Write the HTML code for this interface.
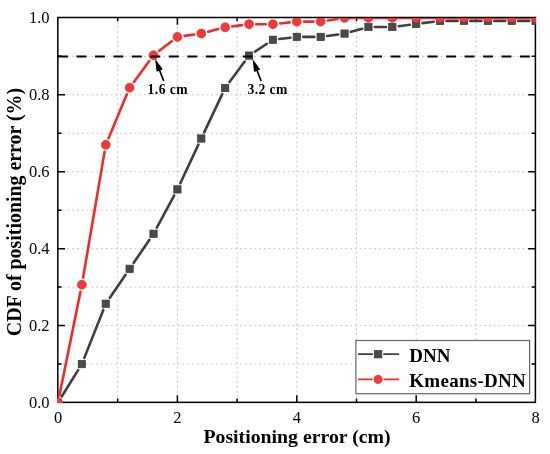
<!DOCTYPE html>
<html><head><meta charset="utf-8"><title>CDF of positioning error</title>
<style>html,body{margin:0;padding:0;background:#fff;overflow:hidden}svg{display:block}</style>
</head><body>
<svg width="550" height="454" viewBox="0 0 550 454">
<defs><clipPath id="pc"><rect x="57.1" y="17.95" width="479.0" height="385.15"/></clipPath></defs>
<rect width="550" height="454" fill="#fff"/>
<path d="M117.70 402.1V18.20M177.40 402.1V18.20M237.10 402.1V18.20M296.80 402.1V18.20M356.50 402.1V18.20M416.20 402.1V18.20M475.90 402.1V18.20M57.86 364.04H535.40M57.86 325.58H535.40M57.86 287.12H535.40M57.86 248.66H535.40M57.86 210.20H535.40M57.86 171.74H535.40M57.86 133.28H535.40M57.86 94.82H535.40M57.86 56.36H535.40" stroke="#c8c8c8" stroke-width="1" stroke-dasharray="2 2.79" fill="none"/>
<path d="M117.70 402.35v-3.8M117.70 17.50v3.8M177.40 402.35v-7.2M177.40 17.50v7.2M237.10 402.35v-3.8M237.10 17.50v3.8M296.80 402.35v-7.2M296.80 17.50v7.2M356.50 402.35v-3.8M356.50 17.50v3.8M416.20 402.35v-7.2M416.20 17.50v7.2M475.90 402.35v-3.8M475.90 17.50v3.8M57.80 364.04h3.8M535.40 364.04h-3.8M57.80 325.58h7.2M535.40 325.58h-7.2M57.80 287.12h3.8M535.40 287.12h-3.8M57.80 248.66h7.2M535.40 248.66h-7.2M57.80 210.20h3.8M535.40 210.20h-3.8M57.80 171.74h7.2M535.40 171.74h-7.2M57.80 133.28h3.8M535.40 133.28h-3.8M57.80 94.82h7.2M535.40 94.82h-7.2M57.80 56.36h3.8M535.40 56.36h-3.8" stroke="#000" stroke-width="1.5" fill="none"/>
<rect x="57.8" y="17.5" width="477.60" height="384.85" fill="none" stroke="#000" stroke-width="1.5"/>
<g clip-path="url(#pc)">
<path d="M61.75 396.46L78.13 370.14M84.34 357.87L103.30 309.93M109.85 297.72L125.55 274.78M133.72 262.82L149.44 239.78M156.81 227.69L174.11 195.51M180.30 183.23L198.38 144.67M204.20 132.33L222.24 94.17M229.53 82.07L244.67 61.53M255.04 51.63L266.92 43.77M279.30 39.02L290.42 37.68M303.20 36.90L314.28 36.90M327.06 36.02L338.18 34.48M350.87 31.86L362.13 28.74M374.84 27.00L385.92 27.00M398.70 26.17L409.82 24.73M422.58 23.10L433.70 21.70M446.48 20.90L457.56 20.90M470.36 20.90L481.44 20.90M494.24 20.90L505.32 20.90M518.12 20.90L529.20 20.90" stroke="#3f3f3f" stroke-width="2.6" stroke-linecap="round" fill="none"/>
<rect x="54.35" y="398.85" width="7.30" height="7.30" fill="#4a4a4a" stroke="#353535" stroke-width="0.7"/>
<rect x="78.23" y="360.45" width="7.30" height="7.30" fill="#4a4a4a" stroke="#353535" stroke-width="0.7"/>
<rect x="102.11" y="300.05" width="7.30" height="7.30" fill="#4a4a4a" stroke="#353535" stroke-width="0.7"/>
<rect x="125.99" y="265.15" width="7.30" height="7.30" fill="#4a4a4a" stroke="#353535" stroke-width="0.7"/>
<rect x="149.87" y="230.15" width="7.30" height="7.30" fill="#4a4a4a" stroke="#353535" stroke-width="0.7"/>
<rect x="173.75" y="185.75" width="7.30" height="7.30" fill="#4a4a4a" stroke="#353535" stroke-width="0.7"/>
<rect x="197.63" y="134.85" width="7.30" height="7.30" fill="#4a4a4a" stroke="#353535" stroke-width="0.7"/>
<rect x="221.51" y="84.35" width="7.30" height="7.30" fill="#4a4a4a" stroke="#353535" stroke-width="0.7"/>
<rect x="245.39" y="51.95" width="7.30" height="7.30" fill="#4a4a4a" stroke="#353535" stroke-width="0.7"/>
<rect x="269.27" y="36.15" width="7.30" height="7.30" fill="#4a4a4a" stroke="#353535" stroke-width="0.7"/>
<rect x="293.15" y="33.25" width="7.30" height="7.30" fill="#4a4a4a" stroke="#353535" stroke-width="0.7"/>
<rect x="317.03" y="33.25" width="7.30" height="7.30" fill="#4a4a4a" stroke="#353535" stroke-width="0.7"/>
<rect x="340.91" y="29.95" width="7.30" height="7.30" fill="#4a4a4a" stroke="#353535" stroke-width="0.7"/>
<rect x="364.79" y="23.35" width="7.30" height="7.30" fill="#4a4a4a" stroke="#353535" stroke-width="0.7"/>
<rect x="388.67" y="23.35" width="7.30" height="7.30" fill="#4a4a4a" stroke="#353535" stroke-width="0.7"/>
<rect x="412.55" y="20.25" width="7.30" height="7.30" fill="#4a4a4a" stroke="#353535" stroke-width="0.7"/>
<rect x="436.43" y="17.25" width="7.30" height="7.30" fill="#4a4a4a" stroke="#353535" stroke-width="0.7"/>
<rect x="460.31" y="17.25" width="7.30" height="7.30" fill="#4a4a4a" stroke="#353535" stroke-width="0.7"/>
<rect x="484.19" y="17.25" width="7.30" height="7.30" fill="#4a4a4a" stroke="#353535" stroke-width="0.7"/>
<rect x="508.07" y="17.25" width="7.30" height="7.30" fill="#4a4a4a" stroke="#353535" stroke-width="0.7"/>
<rect x="531.95" y="17.25" width="7.30" height="7.30" fill="#4a4a4a" stroke="#353535" stroke-width="0.7"/>
<path d="M59.43 395.44L80.45 291.76M83.09 277.60L104.55 151.90M108.54 138.16L126.86 94.34M133.90 81.90L149.26 61.00M159.23 50.82L171.69 41.28M184.53 35.89L194.15 34.51M208.25 31.69L218.19 29.11M232.30 26.37L241.90 25.13M256.24 24.20L265.72 24.20M280.08 23.42L289.64 22.38M304.00 21.60L313.48 21.60M327.80 20.50L337.44 19.00M348.36 17.90L364.64 17.90M372.24 17.90L388.52 17.90M396.12 17.90L412.40 17.90M420.00 17.90L436.28 17.90M443.88 17.90L460.16 17.90M467.76 17.90L484.04 17.90M491.64 17.90L507.92 17.90M515.52 17.90L531.80 17.90" stroke="#EF2A2A" stroke-width="2.6" stroke-linecap="round" fill="none"/>
<circle cx="58.00" cy="402.50" r="4.45" fill="#EF3A3A" stroke="#E52626" stroke-width="0.7"/>
<circle cx="81.88" cy="284.70" r="4.45" fill="#EF3A3A" stroke="#E52626" stroke-width="0.7"/>
<circle cx="105.76" cy="144.80" r="4.45" fill="#EF3A3A" stroke="#E52626" stroke-width="0.7"/>
<circle cx="129.64" cy="87.70" r="4.45" fill="#EF3A3A" stroke="#E52626" stroke-width="0.7"/>
<circle cx="153.52" cy="55.20" r="4.45" fill="#EF3A3A" stroke="#E52626" stroke-width="0.7"/>
<circle cx="177.40" cy="36.90" r="4.45" fill="#EF3A3A" stroke="#E52626" stroke-width="0.7"/>
<circle cx="201.28" cy="33.50" r="4.45" fill="#EF3A3A" stroke="#E52626" stroke-width="0.7"/>
<circle cx="225.16" cy="27.30" r="4.45" fill="#EF3A3A" stroke="#E52626" stroke-width="0.7"/>
<circle cx="249.04" cy="24.20" r="4.45" fill="#EF3A3A" stroke="#E52626" stroke-width="0.7"/>
<circle cx="272.92" cy="24.20" r="4.45" fill="#EF3A3A" stroke="#E52626" stroke-width="0.7"/>
<circle cx="296.80" cy="21.60" r="4.45" fill="#EF3A3A" stroke="#E52626" stroke-width="0.7"/>
<circle cx="320.68" cy="21.60" r="4.45" fill="#EF3A3A" stroke="#E52626" stroke-width="0.7"/>
<circle cx="344.56" cy="17.90" r="4.45" fill="#EF3A3A" stroke="#E52626" stroke-width="0.7"/>
<circle cx="368.44" cy="17.90" r="4.45" fill="#EF3A3A" stroke="#E52626" stroke-width="0.7"/>
<circle cx="392.32" cy="17.90" r="4.45" fill="#EF3A3A" stroke="#E52626" stroke-width="0.7"/>
<circle cx="416.20" cy="17.90" r="4.45" fill="#EF3A3A" stroke="#E52626" stroke-width="0.7"/>
<circle cx="440.08" cy="17.90" r="4.45" fill="#EF3A3A" stroke="#E52626" stroke-width="0.7"/>
<circle cx="463.96" cy="17.90" r="4.45" fill="#EF3A3A" stroke="#E52626" stroke-width="0.7"/>
<circle cx="487.84" cy="17.90" r="4.45" fill="#EF3A3A" stroke="#E52626" stroke-width="0.7"/>
<circle cx="511.72" cy="17.90" r="4.45" fill="#EF3A3A" stroke="#E52626" stroke-width="0.7"/>
<circle cx="535.60" cy="17.90" r="4.45" fill="#EF3A3A" stroke="#E52626" stroke-width="0.7"/>
<path d="M58.00 56.60H535.60" stroke="#000" stroke-width="2" stroke-dasharray="9.9 8.58" fill="none"/>
</g>
<g font-family="Liberation Serif, serif" font-size="16.5" fill="#000"><text x="58.00" y="423.4" text-anchor="middle">0</text><text x="177.40" y="423.4" text-anchor="middle">2</text><text x="296.80" y="423.4" text-anchor="middle">4</text><text x="416.20" y="423.4" text-anchor="middle">6</text><text x="535.60" y="423.4" text-anchor="middle">8</text><text x="49.6" y="407.90" text-anchor="end">0.0</text><text x="49.6" y="330.98" text-anchor="end">0.2</text><text x="49.6" y="254.06" text-anchor="end">0.4</text><text x="49.6" y="177.14" text-anchor="end">0.6</text><text x="49.6" y="100.22" text-anchor="end">0.8</text><text x="49.6" y="23.30" text-anchor="end">1.0</text></g>
<text x="297" y="442.9" text-anchor="middle" font-family="Liberation Serif, serif" font-weight="bold" font-size="19.8">Positioning error (cm)</text>
<text transform="translate(20.8 212) rotate(-90)" text-anchor="middle" font-family="Liberation Serif, serif" font-weight="bold" font-size="19.9">CDF of positioning error (%)</text>
<path d="M163.70 80.90L158.91 68.59" stroke="#000" stroke-width="1.6" fill="none"/><path d="M155.10 58.80L162.71 69.25L156.56 71.65Z" fill="#000"/>
<path d="M261.20 81.10L256.42 68.88" stroke="#000" stroke-width="1.6" fill="none"/><path d="M252.60 59.10L260.22 69.54L254.08 71.94Z" fill="#000"/>
<g font-family="Liberation Serif, serif" font-weight="bold" font-size="13.6" letter-spacing="0.45" fill="#000"><text x="147.6" y="94.1">1.6 cm</text><text x="247.4" y="94.2">3.2 cm</text></g>
<rect x="355.9" y="340.5" width="173.7" height="53.2" fill="#fff" stroke="#666" stroke-width="1.2"/>
<path d="M357.9 354.2H372.90000000000003M383.3 354.2H399.1" stroke="#3f3f3f" stroke-width="1.7" fill="none"/>
<rect x="374.40000000000003" y="350.5" width="7.4" height="7.4" fill="#4a4a4a" stroke="#353535" stroke-width="0.7"/>
<path d="M357.9 379.4H372.6M383.6 379.4H399.1" stroke="#EF2A2A" stroke-width="1.7" fill="none"/>
<circle cx="378.1" cy="379.4" r="4.15" fill="#EF3A3A" stroke="#E52626" stroke-width="0.7"/>
<g font-family="Liberation Serif, serif" font-weight="bold" font-size="19" fill="#000"><text x="409.3" y="361.7">DNN</text><text x="409.3" y="386.8" letter-spacing="0.28">Kmeans-DNN</text></g>
</svg>
</body></html>
